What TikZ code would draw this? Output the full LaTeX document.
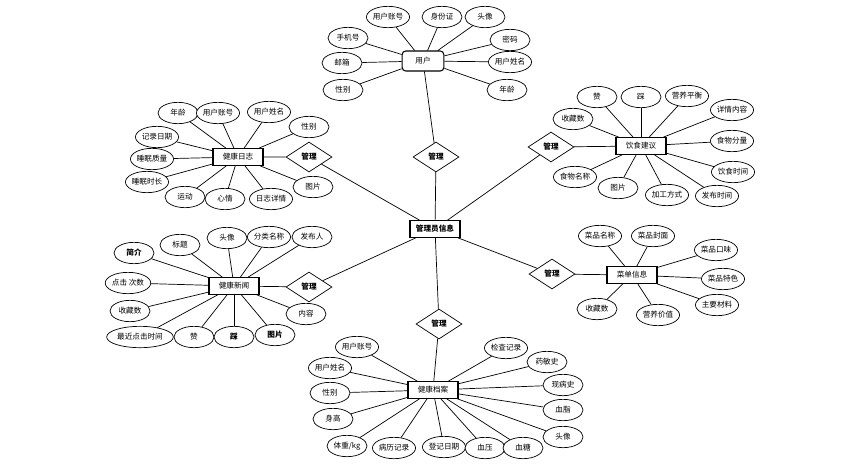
\documentclass[tikz,border=0pt]{standalone}
\usepackage{fontspec}
\setmainfont{Noto Sans CJK SC}
\usetikzlibrary{shapes.geometric}

\begin{document}
\begin{tikzpicture}[x=0.03cm,y=-0.03cm,line width=0.6pt,font=\fontsize{6.5}{7}\selectfont]
        \tikzstyle{attr}=[ellipse,draw=black,fill=white,minimum width=1.2cm,minimum height=0.64cm,inner sep=0pt]
        \tikzstyle{entity}=[rectangle,draw=black,fill=white,minimum width=1.5cm,minimum height=0.5cm,inner sep=1pt,line width=0.9pt]
        \tikzstyle{rel}=[diamond,draw=black,fill=white,minimum width=1.38cm,minimum height=0.9cm,inner sep=0pt,font=\fontsize{6.5}{7}\bfseries\selectfont]
        \useasboundingbox (0,0) rectangle (852,471);

        % entities
        \node[entity] (admin) at (435,229) {\bfseries 管理员信息};
        \node[entity,rounded corners=3pt,minimum width=1.25cm,minimum height=0.6cm] (user) at (423,61) {用户};
        \node[entity] (log) at (238,157) {健康日志};
        \node[entity] (news) at (234,286) {健康新闻};
        \node[entity] (diet) at (641,146) {饮食建议};
        \node[entity] (menu) at (632,275) {菜单信息};
        \node[entity] (file) at (433,390) {健康档案};

        % relations
        \foreach \num/\x/\y/\ent in {1/436/157/user, 2/309/157/log, 3/309/287/news, 4/551/147/diet, 5/552/274/menu, 6/439/324/file}{
                \node[rel] (R-\num) at (\x,\y) {管理};
                \draw (\ent) -- (R-\num) -- (admin);
        }

        % user
        \foreach \num/\x/\y/\txt in {1/388/17/用户账号, 2/442/17/身份证, 3/485/17/头像, 4/348/38/手机号, 5/510/40/密码, 6/342/63/邮箱, 7/510/62/用户姓名, 8/343/90/性别, 9/507/90/年龄}{
                \node[attr] (U-\num) at (\x,\y) {\txt};
                \draw (U-\num) -- (user);
        }

        % health log
        \foreach \num/\x/\y/\txt in {1/178/113/年龄, 2/218/113/用户账号, 3/269/112/用户姓名, 4/309/127/性别, 5/157/137/记录日期, 6/152/159/睡眠质量, 7/147/182/睡眠时长, 8/185/197/运动, 9/225/199/心情, 10/271/199/日志详情, 11/313/187/图片}{
                \node[attr] (L-\num) at (\x,\y) {\txt};
                \draw (L-\num) -- (log);
        }

        % health news
        \foreach \num/\x/\y/\txt in {1/134/253/\bfseries 简介, 2/180/245/标题, 3/227/238/头像, 4/269/237/分类名称, 5/312/237/发布人, 6/128/283/点击 次数, 7/130/311/收藏数, 9/194/337/赞, 10/234/337/\bfseries 踩, 11/275/335/\bfseries 图片, 12/306/314/内容}{
                \node[attr] (N-\num) at (\x,\y) {\txt};
                \draw (N-\num) -- (news);
        }
        \node[attr,minimum width=2cm] (N-8) at (140,337) {最近点击时间};
        \draw (N-8) -- (news);

        % diet advice
        \foreach \num/\x/\y/\txt in {1/597/97/赞, 2/641/97/踩, 3/687/96/营养平衡, 4/573/119/收藏数, 5/732/110/详情内容, 6/732/141/食物分量, 7/733/172/饮食时间, 8/575/177/食物名称, 9/618/188/图片, 10/667/195/加工方式, 11/717/196/发布时间}{
                \node[attr] (D-\num) at (\x,\y) {\txt};
                \draw (D-\num) -- (diet);
        }

        % menu
        \foreach \num/\x/\y/\txt in {1/600/236/菜品名称, 2/653/236/菜品封面, 3/716/250/菜品口味, 4/723/279/菜品特色, 5/717/305/主要材料, 6/597/309/收藏数, 7/658/315/营养价值}{
                \node[attr] (M-\num) at (\x,\y) {\txt};
                \draw (M-\num) -- (menu);
        }

        % health file
        \foreach \num/\x/\y/\txt in {1/357/347/用户账号, 2/330/368/用户姓名, 3/330/393/性别, 4/333/419/身高, 6/394/448/病历记录, 7/444/447/登记日期, 8/485/448/血压, 9/523/448/血糖, 10/506/348/检查记录, 11/547/362/药敏史, 12/563/385/现病史, 13/563/410/血脂, 14/563/437/头像}{
                \node[attr] (F-\num) at (\x,\y) {\txt};
                \draw (F-\num) -- (file);
        }
        \node[attr] (F-5) at (347,446) {体重/kg};
        \draw (F-5) -- (file);

\end{tikzpicture}
\end{document}
